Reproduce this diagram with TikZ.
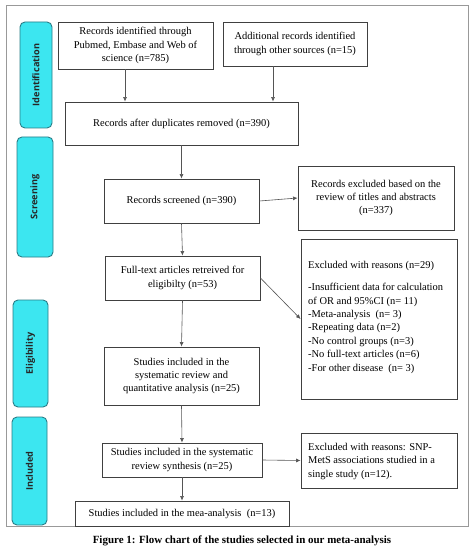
\documentclass[tikz,border=0pt]{standalone}
\usepackage{fontspec}
\setmainfont{Liberation Serif}
\newfontfamily\sidefont{Open Sans}
\usetikzlibrary{arrows.meta}
\definecolor{cyanfill}{HTML}{3CE6F0}
\definecolor{cyanedge}{HTML}{2A7D87}
\definecolor{boxedge}{HTML}{404040}
\definecolor{arrgray}{HTML}{555555}
\tikzset{
  box/.style={draw=boxedge, line width=0.9pt, fill=white, inner sep=2pt, align=center,
    font=\fontsize{10.5}{13.5}\selectfont},
  side/.style={draw=cyanedge, line width=0.9pt, fill=cyanfill, rounded corners=5pt, inner sep=0pt},
  sidetext/.style={rotate=90, font=\sidefont\bfseries\fontsize{9.2}{11}\selectfont, text=black!85},
  txt/.style={inner sep=0pt, align=left, anchor=north west, font=\fontsize{10.5}{13.5}\selectfont},
  arr/.style={draw=arrgray, line width=0.6pt, -{Latex[length=4.5pt,width=4pt]}},
}
\begin{document}
\begin{tikzpicture}[x=1bp, y=-1bp]
\useasboundingbox (0,0) rectangle (474,554);
\fill[white] (0,0) rectangle (474,554);
\draw[draw=gray!80, line width=0.8pt] (6,5) rectangle (468,526);

% side labels
\node[side, minimum width=32bp, minimum height=106bp] (s1) at (36,75) {};
\node[sidetext] (t1) at (s1.center) {Identification};
\node[side, minimum width=36bp, minimum height=120bp] (s2) at (35,197) {};
\node[sidetext] (t2) at (s2.center) {Screening};
\node[side, minimum width=35bp, minimum height=107bp] (s3) at (30.5,353.5) {};
\node[sidetext] (t3) at (s3.center) {Eligibility};
\node[side, minimum width=35bp, minimum height=108bp] (s4) at (29.5,471) {};
\node[sidetext] (t4) at (s4.center) {Included};

% boxes
\node[box, minimum width=155bp, minimum height=47bp] (b1) at (135.5,45.5)
  {Records identified through\\Pubmed, Embase and Web of\\science (n=785)};
\node[box, minimum width=144bp, minimum height=44bp] (b2) at (295,44)
  {Additional records identified\\through other sources (n=15)};
\node[box, minimum width=233bp, minimum height=43bp] (b3) at (181.5,123.5)
  {Records after duplicates removed (n=390)};
\node[box, minimum width=155bp, minimum height=44bp] (b4) at (181.5,201)
  {Records screened (n=390)};
\node[box, minimum width=156bp, minimum height=64bp] (b5) at (376,198)
  {Records excluded based on the\\review of titles and abstracts\\(n=337)};
\node[box, minimum width=155bp, minimum height=44bp] (b6) at (182.5,278)
  {Full-text articles retreived for\\eligibilty (n=53)};
\node[box, minimum width=156bp, minimum height=160bp] (b7) at (379,319) {};
\node[txt] (b7a) at (308,261) {Excluded with reasons (n=29)};
\node[txt] (b7b) at (308,283)
  {-Insufficient data for calculation\\
   of OR and 95\%CI (n= 11)\\
   -Meta-analysis \ (n= 3)\\
   -Repeating data (n=2)\\
   -No control groups (n=3)\\
   -No full-text articles (n=6)\\
   -For other disease \ (n= 3)};
\node[box, minimum width=155bp, minimum height=58bp] (b8) at (181.5,376)
  {Studies included in the\\systematic review and\\quantitative analysis (n=25)};
\node[box, minimum width=160bp, minimum height=34bp] (b9) at (182,460)
  {Studies included in the systematic\\review synthesis (n=25)};
\node[box, minimum width=156bp, minimum height=55bp] (b10) at (379,460.5) {};
\node[txt] (b10t) at (308,443)
  {Excluded with reasons: SNP-\\MetS associations studied in a\\single study (n=12).};
\node[box, minimum width=214bp, minimum height=25bp] (b11) at (182,513.5)
  {Studies included in the mea-analysis \ (n=13)};

% caption
\node[font=\bfseries\fontsize{11}{12}\selectfont] (cap) at (242,541)
  {Figure 1: Flow chart of the studies selected in our meta-analysis};

% arrows
\coordinate (xa) at (125,0);
\coordinate (xb) at (273,0);
\draw[arr] (b1.south -| xa) -- (b3.north -| xa);
\draw[arr] (b2.south -| xb) -- (b3.north -| xb);
\draw[arr] (b3.south) -- (b4.north);
\draw[arr] (b4.east) -- (b5.west);
\draw[arr] (b4.south) -- (b6.north);
\draw[arr] (b6.east) -- (b7.west);
\draw[arr] (b6.south) -- (b8.north);
\draw[arr] (b8.south) -- (b9.north);
\draw[arr] (b9.east) -- (b10.west);
\draw[arr] (b9.south) -- (b11.north);
\end{tikzpicture}
\end{document}
